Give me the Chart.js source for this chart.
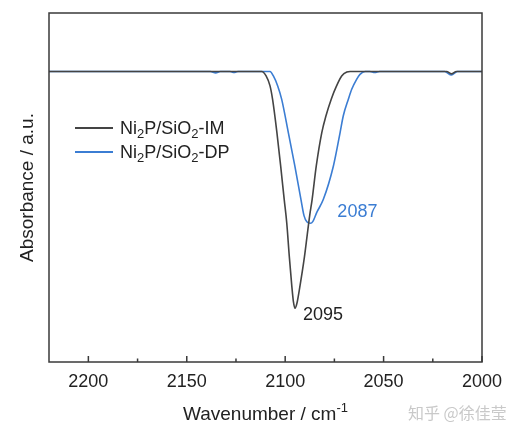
<!DOCTYPE html>
<html>
<head>
<meta charset="utf-8">
<script src="https://cdn.jsdelivr.net/npm/chart.js@4.4.0/dist/chart.umd.min.js"></script>
<style>
  html, body { margin: 0; padding: 0; background: #fff; }
  #wrap { position: relative; width: 517px; height: 434px; font-family: "Liberation Sans", Arial, sans-serif; color: #222; }
  #c { position: absolute; left: 0; top: 0; }
  .lg { position: absolute; left: 75px; height: 22px; font-size: 18px; line-height: 22px; white-space: nowrap; }
  .lg span.sw { display: inline-block; width: 38px; height: 0; border-top: 2px solid; vertical-align: middle; margin-right: 7px; position: relative; top: -1px; }
  .lg sub { font-size: 13px; line-height: 0; vertical-align: -4px; }
  #xt { position: absolute; left: 0; width: 531px; top: 403px; text-align: center; font-size: 19px; }
  #xt sup { font-size: 13px; line-height: 0; vertical-align: 8px; }
  #wm { position: absolute; left: 408px; top: 400px; font-size: 16px; color: #c9c9c9; font-family: "Noto Sans CJK SC", sans-serif; white-space: nowrap; }
</style>
</head>
<body>
<div id="wrap">
  <canvas id="c" width="517" height="434"></canvas>
  <div class="lg" style="top:117px"><span class="sw" style="border-color:#444444"></span>Ni<sub>2</sub>P/SiO<sub>2</sub>-IM</div>
  <div class="lg" style="top:141px"><span class="sw" style="border-color:#3b7dd3"></span>Ni<sub>2</sub>P/SiO<sub>2</sub>-DP</div>
  <div id="xt">Wavenumber / cm<sup>-1</sup></div>
  <div id="wm">知乎 @徐佳莹</div>
</div>
<script>
// --- Data ---

// Ni2P/SiO2-IM
const imWavenumber = [2000, 2013, 2015.5, 2018, 2067, 2068.7, 2071.3, 2073.9, 2076.6, 2079.3, 2081.4, 2084.2, 2086.3, 2087.5, 2088.8, 2090.2, 2092.8, 2094.0, 2095.0, 2095.8, 2096.7, 2097.9, 2099.2, 2100.5, 2102.3, 2104.2, 2106.4, 2107.7, 2109.7, 2111.9, 2220];
const imAbs = [0, 0, -0.01, 0, 0, -0.002, -0.019, -0.061, -0.117, -0.188, -0.258, -0.399, -0.54, -0.606, -0.69, -0.782, -0.922, -0.978, -1.0, -0.973, -0.9, -0.782, -0.64, -0.54, -0.399, -0.258, -0.118, -0.061, -0.019, 0, 0];

// Ni2P/SiO2-DP
const dpWavenumber = [2000, 2012.5, 2015.5, 2019, 2052, 2054.5, 2057, 2059.4, 2062.0, 2063.7, 2066.2, 2067.9, 2070.5, 2072.1, 2075.5, 2080.6, 2084.0, 2085.9, 2087.2, 2088.9, 2090.4, 2092.0, 2095.1, 2098.4, 2101.8, 2103.8, 2106.0, 2107.7, 2124, 2126, 2128, 2133, 2135.3, 2138, 2220];
const dpAbs = [0, 0, -0.015, 0, 0, -0.004, 0, 0, -0.012, -0.033, -0.075, -0.117, -0.188, -0.258, -0.399, -0.54, -0.596, -0.633, -0.641, -0.636, -0.61, -0.54, -0.399, -0.258, -0.117, -0.061, -0.019, 0, 0, -0.004, 0, 0, -0.006, 0, 0];

// Axis ticks
const xTicks = [2000, 2025, 2050, 2075, 2100, 2125, 2150, 2175, 2200];
const xMin = 2000, xMax = 2220;
const yMin = -1.227, yMax = 0.247;

// Peak labels
const peakLabels = [
    { text: '2095', x: 2095, y: -1.0, dx: 8, dy: 7, color: '#222222' },
    { text: '2087', x: 2087.2, y: -0.641, dx: 27, dy: -11, color: '#3b7dd3' }
];

const toPoints = (xs, ys) => xs.map((x, i) => ({ x: x, y: ys[i] }));

// frame + inward tick marks + peak labels
const decor = {
    id: 'decor',
    afterDatasetsDraw(chart) {
        const ctx = chart.ctx;
        const a = chart.chartArea;
        const xs = chart.scales.x, ys = chart.scales.y;
        ctx.save();
        ctx.strokeStyle = '#3a3a3a';
        ctx.lineWidth = 1.5;
        ctx.strokeRect(a.left, a.top, a.right - a.left, a.bottom - a.top);
        ctx.beginPath();
        xTicks.forEach(v => {
            const px = xs.getPixelForValue(v);
            const len = v % 50 === 0 ? 6 : 3.5;
            ctx.moveTo(px, a.bottom);
            ctx.lineTo(px, a.bottom - len);
        });
        ctx.stroke();
        ctx.font = '18px "Liberation Sans", Arial, sans-serif';
        ctx.textBaseline = 'middle';
        ctx.textAlign = 'left';
        peakLabels.forEach(p => {
            ctx.fillStyle = p.color;
            ctx.fillText(p.text, xs.getPixelForValue(p.x) + p.dx, ys.getPixelForValue(p.y) + p.dy);
        });
        ctx.restore();
    }
};

new Chart(document.getElementById('c'), {
    type: 'line',
    data: {
        datasets: [
            {
                label: 'Ni2P/SiO2-IM',
                data: toPoints(imWavenumber, imAbs),
                borderColor: '#444444',
                borderWidth: 1.6,
                pointRadius: 0,
                cubicInterpolationMode: 'monotone'
            },
            {
                label: 'Ni2P/SiO2-DP',
                data: toPoints(dpWavenumber, dpAbs),
                borderColor: '#3b7dd3',
                borderWidth: 1.6,
                pointRadius: 0,
                cubicInterpolationMode: 'monotone'
            }
        ]
    },
    options: {
        responsive: false,
        animation: false,
        layout: { padding: { top: 13, right: 35, left: 0, bottom: 0 } },
        plugins: { legend: { display: false }, tooltip: { enabled: false } },
        scales: {
            x: {
                type: 'linear',
                reverse: true,
                min: xMin,
                max: xMax,
                afterBuildTicks: s => { s.ticks = xTicks.map(v => ({ value: v })); },
                afterFit: s => { s.height = 72; },
                grid: { display: false, drawTicks: false },
                border: { display: false },
                ticks: {
                    autoSkip: false,
                    maxRotation: 0,
                    padding: 9,
                    color: '#222',
                    font: { family: '"Liberation Sans", Arial, sans-serif', size: 18 },
                    callback: v => (v % 50 === 0 ? String(v) : '')
                }
            },
            y: {
                type: 'linear',
                min: yMin,
                max: yMax,
                afterFit: s => { s.width = 49; },
                grid: { display: false, drawTicks: false },
                border: { display: false },
                ticks: { display: false },
                title: {
                    display: true,
                    text: 'Absorbance / a.u.',
                    color: '#222',
                    padding: { top: 16, bottom: 0 },
                    font: { family: '"Liberation Sans", Arial, sans-serif', size: 19 }
                }
            }
        }
    },
    plugins: [decor]
});
</script>
</body>
</html>
